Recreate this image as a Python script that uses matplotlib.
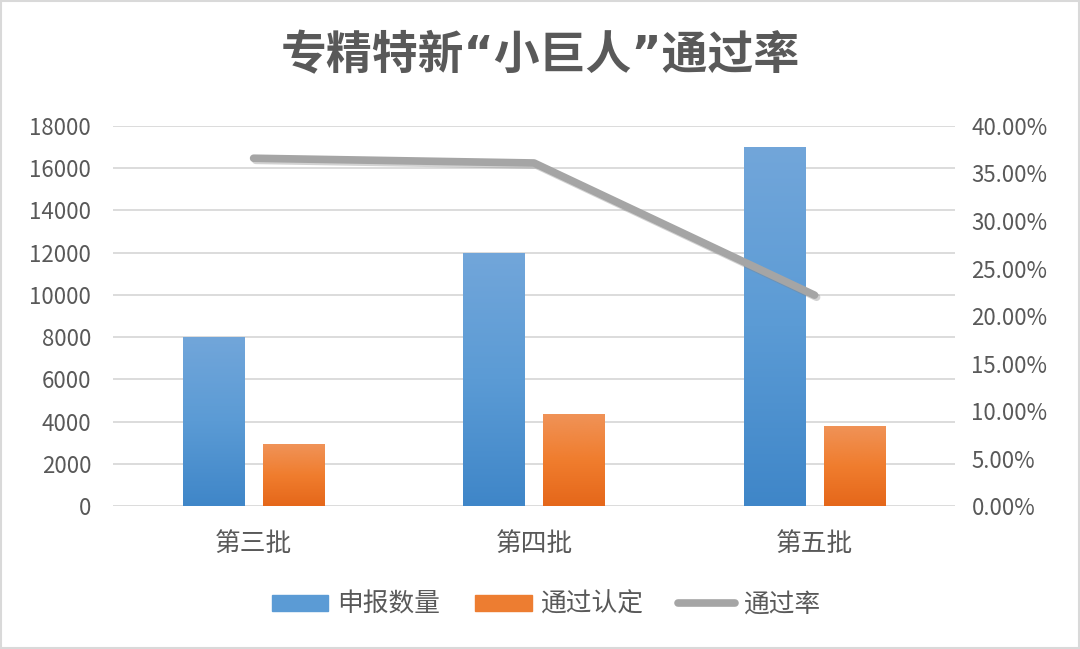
import matplotlib
matplotlib.use("Agg")
import matplotlib.pyplot as plt
import numpy as np
from matplotlib.ticker import FuncFormatter, MultipleLocator
from matplotlib.patches import Rectangle
from matplotlib.lines import Line2D
from matplotlib.colors import LinearSegmentedColormap
import matplotlib.patheffects as pe

plt.rcParams['font.family'] = ['Noto Sans CJK SC', 'DejaVu Sans']

categories = ['第三批', '第四批', '第五批']
applied = [8000, 12000, 17000]
approved = [2930, 4360, 3800]
rate = [0.366, 0.361, 0.222]
series_names = ['申报数量', '通过认定', '通过率']
title = '专精特新“小巨人”通过率'

TXT = '#595959'
fig = plt.figure(figsize=(10.8, 6.49), dpi=100)
ax = fig.add_axes([0.105, 0.220, 0.779, 0.586])
ax2 = ax.twinx()

x = np.arange(len(categories))
w = 0.22
off = 0.143
blue_cmap = LinearSegmentedColormap.from_list('b', ['#3F86C8', '#5B9BD5', '#72A6DA'])
orange_cmap = LinearSegmentedColormap.from_list('o', ['#E5671A', '#F07D2E', '#F09358'])

def grad_bars(xs, vals, base, cmap):
    bars = ax.bar(xs, vals, w, color=base, zorder=3)
    grad = np.linspace(0, 1, 256).reshape(-1, 1)
    for b in bars:
        x0, y0 = b.get_x(), b.get_y()
        im = ax.imshow(grad, cmap=cmap, origin='lower', aspect='auto',
                       extent=[x0, x0 + b.get_width(), y0, y0 + b.get_height()],
                       zorder=3.5, interpolation='bicubic')
        im.set_clip_path(b)
    return bars

grad_bars(x - off, applied, '#5B9BD5', blue_cmap)
grad_bars(x + off, approved, '#ED7D31', orange_cmap)

ax.set_xlim(-0.5, len(categories) - 0.5)
ax.set_ylim(0, 18000)
ax.yaxis.set_major_locator(MultipleLocator(2000))
ax.grid(axis='y', color='#D9D9D9', lw=1.3, zorder=0)
ax.set_axisbelow(True)
ax.set_xticks(x)
ax.set_xticklabels(categories)
ax.tick_params(axis='x', length=0, pad=18, labelsize=18.5, colors=TXT)
ax.tick_params(axis='y', length=0, pad=16, labelsize=16, colors=TXT)

ax2.plot(x, rate, color='#A5A5A5', lw=5.5, solid_capstyle='round', zorder=5,
         path_effects=[pe.SimpleLineShadow(offset=(1.5, -1.5), shadow_color='#808080', alpha=0.35),
                       pe.Normal()])
ax2.set_ylim(0, 0.40)
ax2.yaxis.set_major_locator(MultipleLocator(0.05))
ax2.yaxis.set_major_formatter(FuncFormatter(lambda v, p: f'{v*100:.2f}%'))
ax2.tick_params(axis='y', length=0, pad=12, labelsize=16, colors=TXT)
ax2.set_zorder(ax.get_zorder() + 1)
ax2.patch.set_visible(False)

for a in (ax, ax2):
    for s in a.spines.values():
        s.set_visible(False)

fig.text(0.5, 0.913, title, ha='center', va='center', fontsize=33, color=TXT,
         fontweight='bold', family=['DejaVu Sans', 'Noto Sans CJK SC'])

handles = [Rectangle((0, 0), 1, 1, color='#5B9BD5'),
           Rectangle((0, 0), 1, 1, color='#ED7D31'),
           Line2D([0], [0], color='#A5A5A5', lw=5.5, solid_capstyle='round')]
fig.legend(handles, series_names, loc='center', bbox_to_anchor=(0.506, 0.068), ncol=3,
           frameon=False, fontsize=18.5, labelcolor=TXT, handlelength=2.2, handleheight=0.55,
           columnspacing=1.35, handletextpad=0.35)

fig.patches.append(Rectangle((0.0008, 0.0012), 0.9984, 0.9976, transform=fig.transFigure,
                             fill=False, edgecolor='#D9D9D9', lw=1.5))
fig.savefig('out.png', dpi=100, facecolor='white')
